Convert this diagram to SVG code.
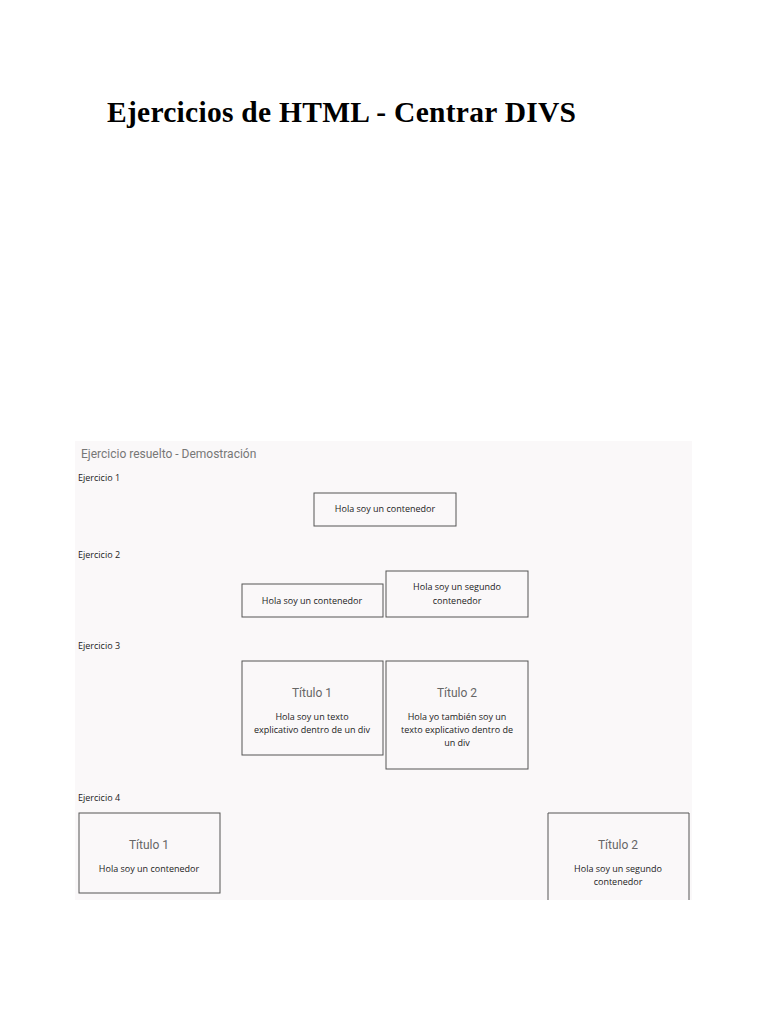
<svg xmlns="http://www.w3.org/2000/svg" width="768" height="1024" viewBox="0 0 768 1024">
<style>
.b{fill:none;stroke:#555;stroke-width:1}
.s{font-family:"Open Sans","DejaVu Sans",sans-serif;font-size:9px;fill:#222;text-anchor:middle}
.l{font-family:"Open Sans","DejaVu Sans",sans-serif;font-size:9px;fill:#222}
.t{font-family:Roboto,"Liberation Sans",sans-serif;font-size:12px;fill:#666;text-anchor:middle}
</style>
<rect width="768" height="1024" fill="#fff"/>
<text x="107" y="122" font-family="'Liberation Serif',serif" font-weight="bold" font-size="29.5" fill="#000" textLength="469">Ejercicios de HTML - Centrar DIVS</text>
<rect x="75" y="441" width="617" height="459" fill="#faf8f9"/>
<text x="81" y="458" font-family="Roboto,'Liberation Sans',sans-serif" font-size="12" fill="#777">Ejercicio resuelto - Demostración</text>
<text class="l" x="78" y="481">Ejercicio 1</text>
<text class="l" x="78" y="558">Ejercicio 2</text>
<text class="l" x="78" y="649">Ejercicio 3</text>
<text class="l" x="78" y="801">Ejercicio 4</text>
<g id="e1"><rect class="b" x="314" y="493" width="142" height="33"/><text class="s" x="385" y="512">Hola soy un contenedor</text></g>
<g id="e2a"><rect class="b" x="242" y="584" width="141" height="33"/><text class="s" x="312" y="604">Hola soy un contenedor</text></g>
<g id="e2b"><rect class="b" x="386" y="571" width="142" height="46"/><text class="s" x="457" y="590">Hola soy un segundo</text><text class="s" x="457" y="604">contenedor</text></g>
<g id="e3a"><rect class="b" x="242" y="661" width="141" height="94"/><text class="t" x="312" y="697">Título 1</text><text class="s" x="312" y="720">Hola soy un texto</text><text class="s" x="312" y="733">explicativo dentro de un div</text></g>
<g id="e3b"><rect class="b" x="386" y="661" width="142" height="108"/><text class="t" x="457" y="697">Título 2</text><text class="s" x="457" y="720">Hola yo también soy un</text><text class="s" x="457" y="733">texto explicativo dentro de</text><text class="s" x="457" y="746">un div</text></g>
<g id="e4a"><rect class="b" x="79" y="813" width="141" height="80"/><text class="t" x="149" y="849">Título 1</text><text class="s" x="149" y="872">Hola soy un contenedor</text></g>
<g id="e4b"><path class="b" d="M548,900V813H689V900"/><text class="t" x="618" y="849">Título 2</text><text class="s" x="618" y="872">Hola soy un segundo</text><text class="s" x="618" y="885">contenedor</text></g>
<g id="connectors"/>
</svg>
